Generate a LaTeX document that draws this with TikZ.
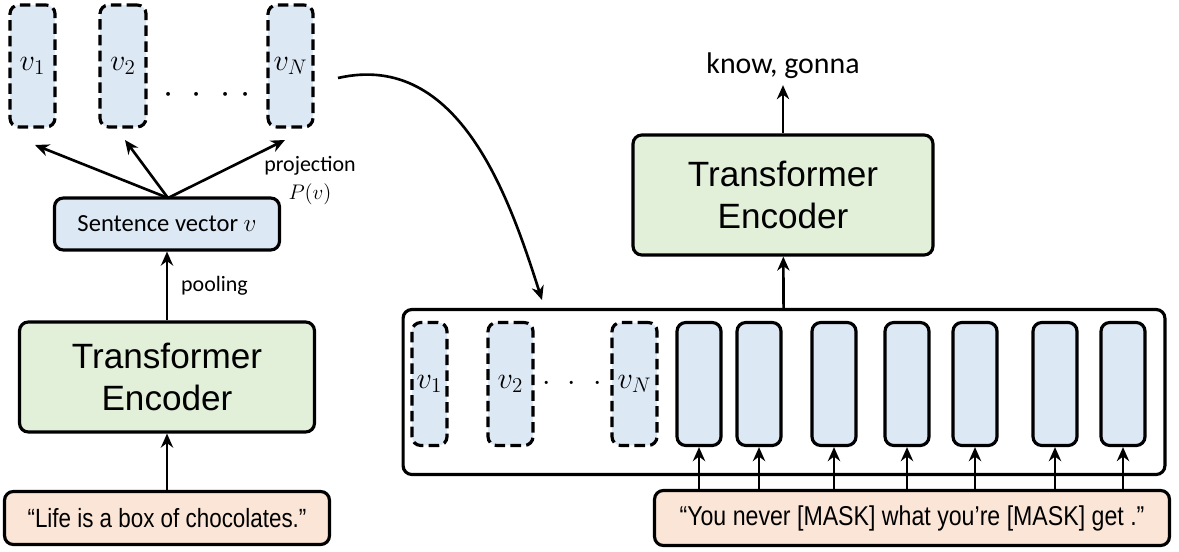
\documentclass[tikz,border=0pt]{standalone}
\usepackage{fontspec}
\setmainfont{Liberation Sans}
\newfontfamily\carl{Carlito}
\usetikzlibrary{arrows.meta}
\definecolor{vb}{HTML}{DDE8F5}
\definecolor{gr}{HTML}{E2EFD9}
\definecolor{pe}{HTML}{FBE5D6}
\begin{document}
\begin{tikzpicture}[x=0.02cm,y=-0.02cm,
  box/.style={draw,line width=1.8pt,rounded corners=5pt,inner sep=0pt},
  dbox/.style={box,fill=vb,dash pattern=on 6pt off 3pt},
  sbox/.style={box,fill=vb},
  arr/.style={-{Stealth[length=8pt,width=7pt]},line width=1.5pt},
  vt/.style={font=\fontsize{18}{18}\selectfont}]
\useasboundingbox (0,0) rectangle (1179,551);
% left top vectors
\foreach \n/\a/\b/\t in {a1/10/55/{$v_1$},a2/100/146/{$v_2$},aN/268/313/{$v_N$}}
  \node[dbox,minimum width=(\b-\a)*0.02cm,minimum height=2.44cm,vt] (\n) at ({(\a+\b)/2},66) {\t};
\node[font=\fontsize{20}{20}\selectfont] (dl) at (207,95) {$\cdot\;\cdot\;\cdot\;\cdot$};
\node[sbox,minimum width=4.5cm,minimum height=1.04cm,font=\carl\fontsize{14}{16}\selectfont] (sv) at (167,224) {Sentence vector $v$};
\coordinate (svt) at (168,198);
\coordinate (t1) at (35,145); \coordinate (t2) at (125,140); \coordinate (t3) at (285,140);
\draw[arr] (svt) -- (t1); \draw[arr] (svt) -- (t2); \draw[arr] (svt) -- (t3);
\node[font=\carl\fontsize{12.5}{14}\selectfont] (pj) at (310,166) {projection};
\node[font=\fontsize{13}{14}\selectfont] (pv) at (310,194) {$P(v)$};
\node[box,fill=gr,minimum width=5.9cm,minimum height=2.2cm,align=center,font=\fontsize{20}{24}\selectfont] (te1) at (167,377) {Transformer\\Encoder};
\draw[arr] (te1) -- (sv) node[midway,right=4pt,font=\carl\fontsize{12.5}{14}\selectfont] {pooling};
\node[box,fill=pe,minimum width=6.5cm,minimum height=1.06cm,font=\fontsize{15}{16}\selectfont] (life) at (167,518) {\addfontfeature{FakeStretch=0.85}“Life is a box of chocolates.”};
\draw[arr] (life) -- (te1);
% right
\node[box,minimum width=15.24cm,minimum height=3.3cm] (cont) at (784,392) {};
\foreach \n/\a/\b/\t in {b1/412/447/{$v_1$},b2/488/533/{$v_2$},bN/612/657/{$v_N$}}
  \node[dbox,minimum width=(\b-\a)*0.02cm,minimum height=2.46cm,vt] (\n) at ({(\a+\b)/2},384) {\t};
\node[font=\fontsize{16}{16}\selectfont] (dr) at (572,384) {$\cdot\,\,\cdot\,\,\cdot$};
\node[box,fill=pe,minimum width=10.3cm,minimum height=1.1cm,font=\fontsize{15.5}{16}\selectfont] (mask) at (912,518) {\addfontfeature{FakeStretch=0.85}“You never [MASK] what you’re [MASK] get .”};
\foreach \i/\x in {1/699,2/759,3/834,4/907,5/975,6/1055,7/1123}{
  \node[sbox,minimum width=0.88cm,minimum height=2.46cm] (s\i) at (\x,384) {};
  \draw[arr] (mask.north -| s\i) -- (s\i);
}
\node[box,fill=gr,minimum width=6cm,minimum height=2.4cm,align=center,font=\fontsize{20}{24}\selectfont] (te2) at (783,195) {Transformer\\Encoder};
\draw[arr] (cont) -- (te2);
\node[font=\carl\fontsize{17}{18}\selectfont] (out) at (783,66) {know, gonna};
\draw[arr] (te2) -- (out);
\coordinate (cs) at (338,78);
\coordinate (ce) at (542,300);
\draw[arr] (cs) .. controls (460,50) and (510,200) .. (ce);
\end{tikzpicture}
\end{document}
